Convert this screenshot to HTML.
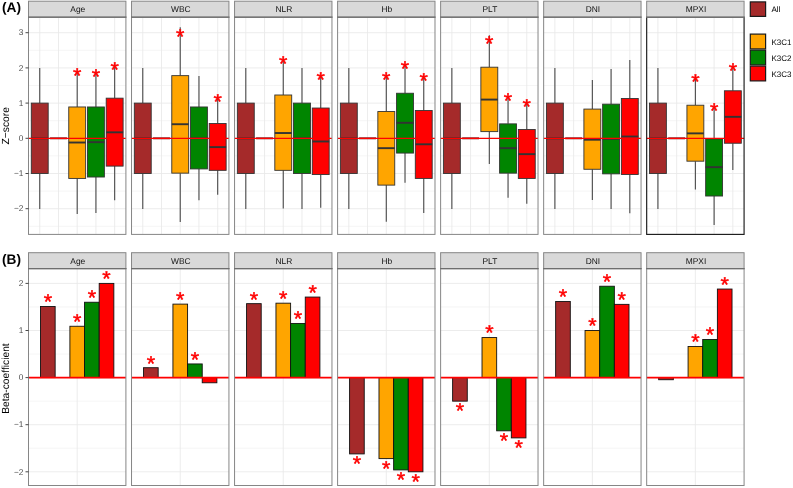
<!DOCTYPE html>
<html lang="en"><head><meta charset="utf-8"><title>Figure</title>
<style>html,body{margin:0;padding:0;background:#fff}svg{display:block}</style>
</head><body>
<svg width="793" height="488" viewBox="0 0 793 488">
<style>
text{font-family:"Liberation Sans",Arial,Helvetica,sans-serif;text-rendering:geometricPrecision}
.st{font-size:21.6px;fill:#FF0000;text-anchor:middle;stroke:#FF0000;stroke-width:0.45}
.sl{font-size:8.4px;fill:#111;text-anchor:middle}
.tk{font-size:8.3px;fill:#4d4d4d;text-anchor:end}
.ax{font-size:10.25px;fill:#000;text-anchor:middle}
.lg{font-size:8px;fill:#000}
.ttl{font-size:13.7px;font-weight:bold;fill:#000}
.gM{stroke:#e8e8e8;stroke-width:0.85;fill:none}
.gm{stroke:#efefef;stroke-width:0.6;fill:none}
.bx{stroke:#333;stroke-width:0.9}
.wh{stroke:#4a4a4a;stroke-width:1.1;fill:none}
.md{stroke:#333;stroke-width:1.9;fill:none}
.bar{stroke:#111;stroke-width:0.9}
</style>
<rect width="793" height="488" fill="#fff"/>
<g>
<rect x="28.5" y="17.2" width="97.4" height="217.2" fill="#fff"/>
<path class="gm" d="M28.5 226.3H125.9"/>
<path class="gm" d="M28.5 191.1H125.9"/>
<path class="gm" d="M28.5 155.9H125.9"/>
<path class="gm" d="M28.5 120.7H125.9"/>
<path class="gm" d="M28.5 85.5H125.9"/>
<path class="gm" d="M28.5 50.3H125.9"/>
<path class="gM" d="M28.5 208.7H125.9"/>
<path class="gM" d="M28.5 173.5H125.9"/>
<path class="gM" d="M28.5 138.3H125.9"/>
<path class="gM" d="M28.5 103.1H125.9"/>
<path class="gM" d="M28.5 67.9H125.9"/>
<path class="gM" d="M28.5 32.7H125.9"/>
<path class="gM" d="M39.74 17.2V234.4"/>
<path class="gM" d="M58.47 17.2V234.4"/>
<path class="gM" d="M77.2 17.2V234.4"/>
<path class="gM" d="M95.93 17.2V234.4"/>
<path class="gM" d="M114.66 17.2V234.4"/>
<path class="wh" d="M39.74 68V103.1M39.74 173.5V209.1"/>
<rect class="bx" x="31.29" y="103.1" width="16.9" height="70.4" fill="#A52A2A"/>
<path class="md" d="M31.29 138.3H48.19"/>
<path class="wh" d="M77.2 71.52V106.97M77.2 178.43V214.03"/>
<rect class="bx" x="68.75" y="106.97" width="16.9" height="71.46" fill="#FFA500"/>
<path class="md" d="M68.75 142.52H85.65"/>
<path class="wh" d="M95.93 71.52V106.97M95.93 177.02V212.97"/>
<rect class="bx" x="87.48" y="106.97" width="16.9" height="70.05" fill="#008500"/>
<path class="md" d="M87.48 142.17H104.38"/>
<path class="wh" d="M114.66 64.48V98.17M114.66 166.11V200.3"/>
<rect class="bx" x="106.21" y="98.17" width="16.9" height="67.94" fill="#FF0000"/>
<path class="md" d="M106.21 132.32H123.11"/>
<path d="M50.02 138.3H66.92" stroke="#7a2a2a" stroke-width="2" fill="none"/>
<path d="M28.5 138.3H125.9" stroke="#FF0000" stroke-width="1.25" fill="none"/>
<text x="77.2" y="83.31" class="st">*</text>
<text x="95.93" y="83.51" class="st">*</text>
<text x="114.66" y="76.71" class="st">*</text>
<rect x="28.5" y="17.2" width="97.4" height="217.2" fill="none" stroke="#868686" stroke-width="1"/>
<rect x="28.5" y="1.2" width="97.4" height="16" fill="#d9d9d9" stroke="#868686" stroke-width="1"/>
<path d="M28 17.2H126.4" stroke="#6e6e6e" stroke-width="1.2" fill="none"/>
<text x="77.8" y="12" class="sl">Age</text>
</g>
<g>
<rect x="131.53" y="17.2" width="97.4" height="217.2" fill="#fff"/>
<path class="gm" d="M131.53 226.3H228.93"/>
<path class="gm" d="M131.53 191.1H228.93"/>
<path class="gm" d="M131.53 155.9H228.93"/>
<path class="gm" d="M131.53 120.7H228.93"/>
<path class="gm" d="M131.53 85.5H228.93"/>
<path class="gm" d="M131.53 50.3H228.93"/>
<path class="gM" d="M131.53 208.7H228.93"/>
<path class="gM" d="M131.53 173.5H228.93"/>
<path class="gM" d="M131.53 138.3H228.93"/>
<path class="gM" d="M131.53 103.1H228.93"/>
<path class="gM" d="M131.53 67.9H228.93"/>
<path class="gM" d="M131.53 32.7H228.93"/>
<path class="gM" d="M142.77 17.2V234.4"/>
<path class="gM" d="M161.5 17.2V234.4"/>
<path class="gM" d="M180.23 17.2V234.4"/>
<path class="gM" d="M198.96 17.2V234.4"/>
<path class="gM" d="M217.69 17.2V234.4"/>
<path class="wh" d="M142.77 68V103.1M142.77 173.5V209.1"/>
<rect class="bx" x="134.32" y="103.1" width="16.9" height="70.4" fill="#A52A2A"/>
<path class="md" d="M134.32 138.3H151.22"/>
<path class="wh" d="M180.23 27.17V75.64M180.23 173.15V222.12"/>
<rect class="bx" x="171.78" y="75.64" width="16.9" height="97.5" fill="#FFA500"/>
<path class="md" d="M171.78 124.22H188.68"/>
<path class="wh" d="M198.96 76.1V106.97M198.96 168.92V200.3"/>
<rect class="bx" x="190.51" y="106.97" width="16.9" height="61.95" fill="#008500"/>
<path class="md" d="M190.51 138.3H207.41"/>
<path class="wh" d="M217.69 96.16V123.52M217.69 170.33V194.67"/>
<rect class="bx" x="209.24" y="123.52" width="16.9" height="46.82" fill="#FF0000"/>
<path class="md" d="M209.24 147.1H226.14"/>
<path d="M153.05 138.3H169.95" stroke="#7a2a2a" stroke-width="2" fill="none"/>
<path d="M131.53 138.3H228.93" stroke="#FF0000" stroke-width="1.25" fill="none"/>
<text x="180.23" y="43.51" class="st">*</text>
<text x="217.69" y="108.71" class="st">*</text>
<rect x="131.53" y="17.2" width="97.4" height="217.2" fill="none" stroke="#868686" stroke-width="1"/>
<rect x="131.53" y="1.2" width="97.4" height="16" fill="#d9d9d9" stroke="#868686" stroke-width="1"/>
<path d="M131.03 17.2H229.43" stroke="#6e6e6e" stroke-width="1.2" fill="none"/>
<text x="180.83" y="12" class="sl">WBC</text>
</g>
<g>
<rect x="234.56" y="17.2" width="97.4" height="217.2" fill="#fff"/>
<path class="gm" d="M234.56 226.3H331.96"/>
<path class="gm" d="M234.56 191.1H331.96"/>
<path class="gm" d="M234.56 155.9H331.96"/>
<path class="gm" d="M234.56 120.7H331.96"/>
<path class="gm" d="M234.56 85.5H331.96"/>
<path class="gm" d="M234.56 50.3H331.96"/>
<path class="gM" d="M234.56 208.7H331.96"/>
<path class="gM" d="M234.56 173.5H331.96"/>
<path class="gM" d="M234.56 138.3H331.96"/>
<path class="gM" d="M234.56 103.1H331.96"/>
<path class="gM" d="M234.56 67.9H331.96"/>
<path class="gM" d="M234.56 32.7H331.96"/>
<path class="gM" d="M245.8 17.2V234.4"/>
<path class="gM" d="M264.53 17.2V234.4"/>
<path class="gM" d="M283.26 17.2V234.4"/>
<path class="gM" d="M301.99 17.2V234.4"/>
<path class="gM" d="M320.72 17.2V234.4"/>
<path class="wh" d="M245.8 68V103.1M245.8 173.5V209.1"/>
<rect class="bx" x="237.35" y="103.1" width="16.9" height="70.4" fill="#A52A2A"/>
<path class="md" d="M237.35 138.3H254.25"/>
<path class="wh" d="M283.26 59.2V95M283.26 170.33V208.4"/>
<rect class="bx" x="274.81" y="95" width="16.9" height="75.33" fill="#FFA500"/>
<path class="md" d="M274.81 133.02H291.71"/>
<path class="wh" d="M301.99 68V103.1M301.99 173.5V209.1"/>
<rect class="bx" x="293.54" y="103.1" width="16.9" height="70.4" fill="#008500"/>
<path class="md" d="M293.54 138.3H310.44"/>
<path class="wh" d="M320.72 75.04V108.03M320.72 174.56V207.69"/>
<rect class="bx" x="312.27" y="108.03" width="16.9" height="66.53" fill="#FF0000"/>
<path class="md" d="M312.27 141.47H329.17"/>
<path d="M256.08 138.3H272.98" stroke="#7a2a2a" stroke-width="2" fill="none"/>
<path d="M234.56 138.3H331.96" stroke="#FF0000" stroke-width="1.25" fill="none"/>
<text x="283.26" y="71.11" class="st">*</text>
<text x="320.72" y="87.21" class="st">*</text>
<rect x="234.56" y="17.2" width="97.4" height="217.2" fill="none" stroke="#868686" stroke-width="1"/>
<rect x="234.56" y="1.2" width="97.4" height="16" fill="#d9d9d9" stroke="#868686" stroke-width="1"/>
<path d="M234.06 17.2H332.46" stroke="#6e6e6e" stroke-width="1.2" fill="none"/>
<text x="283.86" y="12" class="sl">NLR</text>
</g>
<g>
<rect x="337.59" y="17.2" width="97.4" height="217.2" fill="#fff"/>
<path class="gm" d="M337.59 226.3H434.99"/>
<path class="gm" d="M337.59 191.1H434.99"/>
<path class="gm" d="M337.59 155.9H434.99"/>
<path class="gm" d="M337.59 120.7H434.99"/>
<path class="gm" d="M337.59 85.5H434.99"/>
<path class="gm" d="M337.59 50.3H434.99"/>
<path class="gM" d="M337.59 208.7H434.99"/>
<path class="gM" d="M337.59 173.5H434.99"/>
<path class="gM" d="M337.59 138.3H434.99"/>
<path class="gM" d="M337.59 103.1H434.99"/>
<path class="gM" d="M337.59 67.9H434.99"/>
<path class="gM" d="M337.59 32.7H434.99"/>
<path class="gM" d="M348.83 17.2V234.4"/>
<path class="gM" d="M367.56 17.2V234.4"/>
<path class="gM" d="M386.29 17.2V234.4"/>
<path class="gM" d="M405.02 17.2V234.4"/>
<path class="gM" d="M423.75 17.2V234.4"/>
<path class="wh" d="M348.83 68V103.1M348.83 173.5V209.1"/>
<rect class="bx" x="340.38" y="103.1" width="16.9" height="70.4" fill="#A52A2A"/>
<path class="md" d="M340.38 138.3H357.28"/>
<path class="wh" d="M386.29 75.04V111.55M386.29 185.12V221.77"/>
<rect class="bx" x="377.84" y="111.55" width="16.9" height="73.57" fill="#FFA500"/>
<path class="md" d="M377.84 148.16H394.74"/>
<path class="wh" d="M405.02 64.48V93.24M405.02 153.08V182.7"/>
<rect class="bx" x="396.57" y="93.24" width="16.9" height="59.84" fill="#008500"/>
<path class="md" d="M396.57 122.81H413.47"/>
<path class="wh" d="M423.75 75.74V110.49M423.75 178.43V212.97"/>
<rect class="bx" x="415.3" y="110.49" width="16.9" height="67.94" fill="#FF0000"/>
<path class="md" d="M415.3 144.28H432.2"/>
<path d="M359.11 138.3H376.01" stroke="#7a2a2a" stroke-width="2" fill="none"/>
<path d="M337.59 138.3H434.99" stroke="#FF0000" stroke-width="1.25" fill="none"/>
<text x="386.29" y="86.51" class="st">*</text>
<text x="405.02" y="76.11" class="st">*</text>
<text x="423.75" y="87.61" class="st">*</text>
<rect x="337.59" y="17.2" width="97.4" height="217.2" fill="none" stroke="#868686" stroke-width="1"/>
<rect x="337.59" y="1.2" width="97.4" height="16" fill="#d9d9d9" stroke="#868686" stroke-width="1"/>
<path d="M337.09 17.2H435.49" stroke="#6e6e6e" stroke-width="1.2" fill="none"/>
<text x="386.89" y="12" class="sl">Hb</text>
</g>
<g>
<rect x="440.62" y="17.2" width="97.4" height="217.2" fill="#fff"/>
<path class="gm" d="M440.62 226.3H538.02"/>
<path class="gm" d="M440.62 191.1H538.02"/>
<path class="gm" d="M440.62 155.9H538.02"/>
<path class="gm" d="M440.62 120.7H538.02"/>
<path class="gm" d="M440.62 85.5H538.02"/>
<path class="gm" d="M440.62 50.3H538.02"/>
<path class="gM" d="M440.62 208.7H538.02"/>
<path class="gM" d="M440.62 173.5H538.02"/>
<path class="gM" d="M440.62 138.3H538.02"/>
<path class="gM" d="M440.62 103.1H538.02"/>
<path class="gM" d="M440.62 67.9H538.02"/>
<path class="gM" d="M440.62 32.7H538.02"/>
<path class="gM" d="M451.86 17.2V234.4"/>
<path class="gM" d="M470.59 17.2V234.4"/>
<path class="gM" d="M489.32 17.2V234.4"/>
<path class="gM" d="M508.05 17.2V234.4"/>
<path class="gM" d="M526.78 17.2V234.4"/>
<path class="wh" d="M451.86 68V103.1M451.86 173.5V209.1"/>
<rect class="bx" x="443.41" y="103.1" width="16.9" height="70.4" fill="#A52A2A"/>
<path class="md" d="M443.41 138.3H460.31"/>
<path class="wh" d="M489.32 35.26V67.2M489.32 131.61V164.04"/>
<rect class="bx" x="480.87" y="67.2" width="16.9" height="64.42" fill="#FFA500"/>
<path class="md" d="M480.87 99.58H497.77"/>
<path class="wh" d="M508.05 96.16V123.87M508.05 173.15V197.84"/>
<rect class="bx" x="499.6" y="123.87" width="16.9" height="49.28" fill="#008500"/>
<path class="md" d="M499.6 148.16H516.5"/>
<path class="wh" d="M526.78 101.44V129.5M526.78 178.43V203.82"/>
<rect class="bx" x="518.33" y="129.5" width="16.9" height="48.93" fill="#FF0000"/>
<path class="md" d="M518.33 154.14H535.23"/>
<path d="M462.14 138.3H479.04" stroke="#7a2a2a" stroke-width="2" fill="none"/>
<path d="M440.62 138.3H538.02" stroke="#FF0000" stroke-width="1.25" fill="none"/>
<text x="489.32" y="51.41" class="st">*</text>
<text x="508.05" y="108.31" class="st">*</text>
<text x="526.78" y="113.51" class="st">*</text>
<rect x="440.62" y="17.2" width="97.4" height="217.2" fill="none" stroke="#868686" stroke-width="1"/>
<rect x="440.62" y="1.2" width="97.4" height="16" fill="#d9d9d9" stroke="#868686" stroke-width="1"/>
<path d="M440.12 17.2H538.52" stroke="#6e6e6e" stroke-width="1.2" fill="none"/>
<text x="489.92" y="12" class="sl">PLT</text>
</g>
<g>
<rect x="543.65" y="17.2" width="97.4" height="217.2" fill="#fff"/>
<path class="gm" d="M543.65 226.3H641.05"/>
<path class="gm" d="M543.65 191.1H641.05"/>
<path class="gm" d="M543.65 155.9H641.05"/>
<path class="gm" d="M543.65 120.7H641.05"/>
<path class="gm" d="M543.65 85.5H641.05"/>
<path class="gm" d="M543.65 50.3H641.05"/>
<path class="gM" d="M543.65 208.7H641.05"/>
<path class="gM" d="M543.65 173.5H641.05"/>
<path class="gM" d="M543.65 138.3H641.05"/>
<path class="gM" d="M543.65 103.1H641.05"/>
<path class="gM" d="M543.65 67.9H641.05"/>
<path class="gM" d="M543.65 32.7H641.05"/>
<path class="gM" d="M554.89 17.2V234.4"/>
<path class="gM" d="M573.62 17.2V234.4"/>
<path class="gM" d="M592.35 17.2V234.4"/>
<path class="gM" d="M611.08 17.2V234.4"/>
<path class="gM" d="M629.81 17.2V234.4"/>
<path class="wh" d="M554.89 68V103.1M554.89 173.5V209.1"/>
<rect class="bx" x="546.44" y="103.1" width="16.9" height="70.4" fill="#A52A2A"/>
<path class="md" d="M546.44 138.3H563.34"/>
<path class="wh" d="M592.35 79.97V109.08M592.35 169.28V199.95"/>
<rect class="bx" x="583.9" y="109.08" width="16.9" height="60.19" fill="#FFA500"/>
<path class="md" d="M583.9 139.71H600.8"/>
<path class="wh" d="M611.08 69.06V104.16M611.08 173.85V209.1"/>
<rect class="bx" x="602.63" y="104.16" width="16.9" height="69.7" fill="#008500"/>
<path class="md" d="M602.63 139H619.53"/>
<path class="wh" d="M629.81 59.9V98.52M629.81 174.56V213.32"/>
<rect class="bx" x="621.36" y="98.52" width="16.9" height="76.03" fill="#FF0000"/>
<path class="md" d="M621.36 136.54H638.26"/>
<path d="M565.17 138.3H582.07" stroke="#7a2a2a" stroke-width="2" fill="none"/>
<path d="M543.65 138.3H641.05" stroke="#FF0000" stroke-width="1.25" fill="none"/>
<rect x="543.65" y="17.2" width="97.4" height="217.2" fill="none" stroke="#868686" stroke-width="1"/>
<rect x="543.65" y="1.2" width="97.4" height="16" fill="#d9d9d9" stroke="#868686" stroke-width="1"/>
<path d="M543.15 17.2H641.55" stroke="#6e6e6e" stroke-width="1.2" fill="none"/>
<text x="592.95" y="12" class="sl">DNI</text>
</g>
<g>
<rect x="646.68" y="17.2" width="97.4" height="217.2" fill="#fff"/>
<path class="gm" d="M646.68 226.3H744.08"/>
<path class="gm" d="M646.68 191.1H744.08"/>
<path class="gm" d="M646.68 155.9H744.08"/>
<path class="gm" d="M646.68 120.7H744.08"/>
<path class="gm" d="M646.68 85.5H744.08"/>
<path class="gm" d="M646.68 50.3H744.08"/>
<path class="gM" d="M646.68 208.7H744.08"/>
<path class="gM" d="M646.68 173.5H744.08"/>
<path class="gM" d="M646.68 138.3H744.08"/>
<path class="gM" d="M646.68 103.1H744.08"/>
<path class="gM" d="M646.68 67.9H744.08"/>
<path class="gM" d="M646.68 32.7H744.08"/>
<path class="gM" d="M657.92 17.2V234.4"/>
<path class="gM" d="M676.65 17.2V234.4"/>
<path class="gM" d="M695.38 17.2V234.4"/>
<path class="gM" d="M714.11 17.2V234.4"/>
<path class="gM" d="M732.84 17.2V234.4"/>
<path class="wh" d="M657.92 68V103.1M657.92 173.5V209.1"/>
<rect class="bx" x="649.47" y="103.1" width="16.9" height="70.4" fill="#A52A2A"/>
<path class="md" d="M649.47 138.3H666.37"/>
<path class="wh" d="M695.38 76.8V105.21M695.38 161.18V189.39"/>
<rect class="bx" x="686.93" y="105.21" width="16.9" height="55.97" fill="#FFA500"/>
<path class="md" d="M686.93 133.37H703.83"/>
<path class="wh" d="M714.11 106.72V139M714.11 196.03V224.94"/>
<rect class="bx" x="705.66" y="139" width="16.9" height="57.02" fill="#008500"/>
<path class="md" d="M705.66 167.16H722.56"/>
<path class="wh" d="M732.84 66.24V90.78M732.84 143.23V170.03"/>
<rect class="bx" x="724.39" y="90.78" width="16.9" height="52.45" fill="#FF0000"/>
<path class="md" d="M724.39 116.83H741.29"/>
<path d="M668.2 138.3H685.1" stroke="#7a2a2a" stroke-width="2" fill="none"/>
<path d="M646.68 138.3H744.08" stroke="#FF0000" stroke-width="1.25" fill="none"/>
<text x="695.38" y="89.21" class="st">*</text>
<text x="714.11" y="118.11" class="st">*</text>
<text x="732.84" y="77.71" class="st">*</text>
<rect x="646.68" y="17.2" width="97.4" height="217.2" fill="none" stroke="#1a1a1a" stroke-width="1.15"/>
<rect x="646.68" y="1.2" width="97.4" height="16" fill="#d9d9d9" stroke="#868686" stroke-width="1"/>
<path d="M646.18 17.2H744.58" stroke="#6e6e6e" stroke-width="1.2" fill="none"/>
<text x="695.98" y="12" class="sl">MPXI</text>
</g>
<path d="M25.5 208.7H28.5" stroke="#333" stroke-width="0.9"/>
<text x="23.4" y="211.45" class="tk">−2</text>
<path d="M25.5 173.5H28.5" stroke="#333" stroke-width="0.9"/>
<text x="23.4" y="176.25" class="tk">−1</text>
<path d="M25.5 138.3H28.5" stroke="#333" stroke-width="0.9"/>
<text x="23.4" y="141.05" class="tk">0</text>
<path d="M25.5 103.1H28.5" stroke="#333" stroke-width="0.9"/>
<text x="23.4" y="105.85" class="tk">1</text>
<path d="M25.5 67.9H28.5" stroke="#333" stroke-width="0.9"/>
<text x="23.4" y="70.65" class="tk">2</text>
<path d="M25.5 32.7H28.5" stroke="#333" stroke-width="0.9"/>
<text x="23.4" y="35.45" class="tk">3</text>
<text class="ax" transform="translate(9.2 125.8) rotate(-90)">Z−score</text>
<text class="ttl" x="2" y="12.2">(A)</text>
<g>
<rect x="28.5" y="268.6" width="97.4" height="216.9" fill="#fff"/>
<path class="gm" d="M28.5 448.25H125.9"/>
<path class="gm" d="M28.5 401.15H125.9"/>
<path class="gm" d="M28.5 354.05H125.9"/>
<path class="gm" d="M28.5 306.95H125.9"/>
<path class="gM" d="M28.5 471.8H125.9"/>
<path class="gM" d="M28.5 424.7H125.9"/>
<path class="gM" d="M28.5 377.6H125.9"/>
<path class="gM" d="M28.5 330.5H125.9"/>
<path class="gM" d="M28.5 283.4H125.9"/>
<path class="gM" d="M77.2 268.6V485.5"/>
<rect class="bar" x="40.5" y="306.48" width="14.65" height="71.12" fill="#A52A2A"/>
<rect class="bar" x="69.9" y="326.26" width="14.65" height="51.34" fill="#FFA500"/>
<rect class="bar" x="84.55" y="302.24" width="14.65" height="75.36" fill="#008500"/>
<rect class="bar" x="99.2" y="283.4" width="14.65" height="94.2" fill="#FF0000"/>
<path d="M28.5 377.6H125.9" stroke="#FF0000" stroke-width="1.6" fill="none"/>
<text x="47.83" y="309.39" class="st">*</text>
<text x="77.23" y="329.17" class="st">*</text>
<text x="91.88" y="305.15" class="st">*</text>
<text x="106.53" y="286.31" class="st">*</text>
<rect x="28.5" y="268.6" width="97.4" height="216.9" fill="none" stroke="#868686" stroke-width="1"/>
<rect x="28.5" y="252.7" width="97.4" height="15.9" fill="#d9d9d9" stroke="#868686" stroke-width="1"/>
<path d="M28 268.6H126.4" stroke="#6e6e6e" stroke-width="1.2" fill="none"/>
<text x="77.8" y="263.5" class="sl">Age</text>
</g>
<g>
<rect x="131.53" y="268.6" width="97.4" height="216.9" fill="#fff"/>
<path class="gm" d="M131.53 448.25H228.93"/>
<path class="gm" d="M131.53 401.15H228.93"/>
<path class="gm" d="M131.53 354.05H228.93"/>
<path class="gm" d="M131.53 306.95H228.93"/>
<path class="gM" d="M131.53 471.8H228.93"/>
<path class="gM" d="M131.53 424.7H228.93"/>
<path class="gM" d="M131.53 377.6H228.93"/>
<path class="gM" d="M131.53 330.5H228.93"/>
<path class="gM" d="M131.53 283.4H228.93"/>
<path class="gM" d="M180.23 268.6V485.5"/>
<rect class="bar" x="143.53" y="367.71" width="14.65" height="9.89" fill="#A52A2A"/>
<rect class="bar" x="172.93" y="304.12" width="14.65" height="73.48" fill="#FFA500"/>
<rect class="bar" x="187.58" y="363.94" width="14.65" height="13.66" fill="#008500"/>
<rect class="bar" x="202.23" y="377.6" width="14.65" height="5.18" fill="#FF0000"/>
<path d="M131.53 377.6H228.93" stroke="#FF0000" stroke-width="1.6" fill="none"/>
<text x="150.85" y="370.62" class="st">*</text>
<text x="180.25" y="307.03" class="st">*</text>
<text x="194.9" y="366.85" class="st">*</text>
<rect x="131.53" y="268.6" width="97.4" height="216.9" fill="none" stroke="#868686" stroke-width="1"/>
<rect x="131.53" y="252.7" width="97.4" height="15.9" fill="#d9d9d9" stroke="#868686" stroke-width="1"/>
<path d="M131.03 268.6H229.43" stroke="#6e6e6e" stroke-width="1.2" fill="none"/>
<text x="180.83" y="263.5" class="sl">WBC</text>
</g>
<g>
<rect x="234.56" y="268.6" width="97.4" height="216.9" fill="#fff"/>
<path class="gm" d="M234.56 448.25H331.96"/>
<path class="gm" d="M234.56 401.15H331.96"/>
<path class="gm" d="M234.56 354.05H331.96"/>
<path class="gm" d="M234.56 306.95H331.96"/>
<path class="gM" d="M234.56 471.8H331.96"/>
<path class="gM" d="M234.56 424.7H331.96"/>
<path class="gM" d="M234.56 377.6H331.96"/>
<path class="gM" d="M234.56 330.5H331.96"/>
<path class="gM" d="M234.56 283.4H331.96"/>
<path class="gM" d="M283.26 268.6V485.5"/>
<rect class="bar" x="246.56" y="303.65" width="14.65" height="73.95" fill="#A52A2A"/>
<rect class="bar" x="275.96" y="303.18" width="14.65" height="74.42" fill="#FFA500"/>
<rect class="bar" x="290.61" y="323.44" width="14.65" height="54.17" fill="#008500"/>
<rect class="bar" x="305.26" y="297.06" width="14.65" height="80.54" fill="#FF0000"/>
<path d="M234.56 377.6H331.96" stroke="#FF0000" stroke-width="1.6" fill="none"/>
<text x="253.88" y="306.56" class="st">*</text>
<text x="283.28" y="306.09" class="st">*</text>
<text x="297.94" y="326.34" class="st">*</text>
<text x="312.58" y="299.97" class="st">*</text>
<rect x="234.56" y="268.6" width="97.4" height="216.9" fill="none" stroke="#868686" stroke-width="1"/>
<rect x="234.56" y="252.7" width="97.4" height="15.9" fill="#d9d9d9" stroke="#868686" stroke-width="1"/>
<path d="M234.06 268.6H332.46" stroke="#6e6e6e" stroke-width="1.2" fill="none"/>
<text x="283.86" y="263.5" class="sl">NLR</text>
</g>
<g>
<rect x="337.59" y="268.6" width="97.4" height="216.9" fill="#fff"/>
<path class="gm" d="M337.59 448.25H434.99"/>
<path class="gm" d="M337.59 401.15H434.99"/>
<path class="gm" d="M337.59 354.05H434.99"/>
<path class="gm" d="M337.59 306.95H434.99"/>
<path class="gM" d="M337.59 471.8H434.99"/>
<path class="gM" d="M337.59 424.7H434.99"/>
<path class="gM" d="M337.59 377.6H434.99"/>
<path class="gM" d="M337.59 330.5H434.99"/>
<path class="gM" d="M337.59 283.4H434.99"/>
<path class="gM" d="M386.29 268.6V485.5"/>
<rect class="bar" x="349.59" y="377.6" width="14.65" height="76.3" fill="#A52A2A"/>
<rect class="bar" x="378.99" y="377.6" width="14.65" height="81.01" fill="#FFA500"/>
<rect class="bar" x="393.64" y="377.6" width="14.65" height="92.32" fill="#008500"/>
<rect class="bar" x="408.29" y="377.6" width="14.65" height="94.2" fill="#FF0000"/>
<path d="M337.59 377.6H434.99" stroke="#FF0000" stroke-width="1.6" fill="none"/>
<text x="356.92" y="470.81" class="st">*</text>
<text x="386.31" y="475.52" class="st">*</text>
<text x="400.97" y="486.83" class="st">*</text>
<text x="415.62" y="488.71" class="st">*</text>
<rect x="337.59" y="268.6" width="97.4" height="216.9" fill="none" stroke="#868686" stroke-width="1"/>
<rect x="337.59" y="252.7" width="97.4" height="15.9" fill="#d9d9d9" stroke="#868686" stroke-width="1"/>
<path d="M337.09 268.6H435.49" stroke="#6e6e6e" stroke-width="1.2" fill="none"/>
<text x="386.89" y="263.5" class="sl">Hb</text>
</g>
<g>
<rect x="440.62" y="268.6" width="97.4" height="216.9" fill="#fff"/>
<path class="gm" d="M440.62 448.25H538.02"/>
<path class="gm" d="M440.62 401.15H538.02"/>
<path class="gm" d="M440.62 354.05H538.02"/>
<path class="gm" d="M440.62 306.95H538.02"/>
<path class="gM" d="M440.62 471.8H538.02"/>
<path class="gM" d="M440.62 424.7H538.02"/>
<path class="gM" d="M440.62 377.6H538.02"/>
<path class="gM" d="M440.62 330.5H538.02"/>
<path class="gM" d="M440.62 283.4H538.02"/>
<path class="gM" d="M489.32 268.6V485.5"/>
<rect class="bar" x="452.62" y="377.6" width="14.65" height="23.55" fill="#A52A2A"/>
<rect class="bar" x="482.02" y="337.56" width="14.65" height="40.04" fill="#FFA500"/>
<rect class="bar" x="496.67" y="377.6" width="14.65" height="53.22" fill="#008500"/>
<rect class="bar" x="511.32" y="377.6" width="14.65" height="60.29" fill="#FF0000"/>
<path d="M440.62 377.6H538.02" stroke="#FF0000" stroke-width="1.6" fill="none"/>
<text x="459.94" y="418.06" class="st">*</text>
<text x="489.34" y="340.47" class="st">*</text>
<text x="504" y="447.73" class="st">*</text>
<text x="518.64" y="454.8" class="st">*</text>
<rect x="440.62" y="268.6" width="97.4" height="216.9" fill="none" stroke="#868686" stroke-width="1"/>
<rect x="440.62" y="252.7" width="97.4" height="15.9" fill="#d9d9d9" stroke="#868686" stroke-width="1"/>
<path d="M440.12 268.6H538.52" stroke="#6e6e6e" stroke-width="1.2" fill="none"/>
<text x="489.92" y="263.5" class="sl">PLT</text>
</g>
<g>
<rect x="543.65" y="268.6" width="97.4" height="216.9" fill="#fff"/>
<path class="gm" d="M543.65 448.25H641.05"/>
<path class="gm" d="M543.65 401.15H641.05"/>
<path class="gm" d="M543.65 354.05H641.05"/>
<path class="gm" d="M543.65 306.95H641.05"/>
<path class="gM" d="M543.65 471.8H641.05"/>
<path class="gM" d="M543.65 424.7H641.05"/>
<path class="gM" d="M543.65 377.6H641.05"/>
<path class="gM" d="M543.65 330.5H641.05"/>
<path class="gM" d="M543.65 283.4H641.05"/>
<path class="gM" d="M592.35 268.6V485.5"/>
<rect class="bar" x="555.65" y="301.53" width="14.65" height="76.07" fill="#A52A2A"/>
<rect class="bar" x="585.05" y="330.5" width="14.65" height="47.1" fill="#FFA500"/>
<rect class="bar" x="599.7" y="286.23" width="14.65" height="91.37" fill="#008500"/>
<rect class="bar" x="614.35" y="304.36" width="14.65" height="73.24" fill="#FF0000"/>
<path d="M543.65 377.6H641.05" stroke="#FF0000" stroke-width="1.6" fill="none"/>
<text x="562.98" y="304.44" class="st">*</text>
<text x="592.38" y="333.41" class="st">*</text>
<text x="607.02" y="289.14" class="st">*</text>
<text x="621.68" y="307.27" class="st">*</text>
<rect x="543.65" y="268.6" width="97.4" height="216.9" fill="none" stroke="#868686" stroke-width="1"/>
<rect x="543.65" y="252.7" width="97.4" height="15.9" fill="#d9d9d9" stroke="#868686" stroke-width="1"/>
<path d="M543.15 268.6H641.55" stroke="#6e6e6e" stroke-width="1.2" fill="none"/>
<text x="592.95" y="263.5" class="sl">DNI</text>
</g>
<g>
<rect x="646.68" y="268.6" width="97.4" height="216.9" fill="#fff"/>
<path class="gm" d="M646.68 448.25H744.08"/>
<path class="gm" d="M646.68 401.15H744.08"/>
<path class="gm" d="M646.68 354.05H744.08"/>
<path class="gm" d="M646.68 306.95H744.08"/>
<path class="gM" d="M646.68 471.8H744.08"/>
<path class="gM" d="M646.68 424.7H744.08"/>
<path class="gM" d="M646.68 377.6H744.08"/>
<path class="gM" d="M646.68 330.5H744.08"/>
<path class="gM" d="M646.68 283.4H744.08"/>
<path class="gM" d="M695.38 268.6V485.5"/>
<rect class="bar" x="658.68" y="377.6" width="14.65" height="2.12" fill="#A52A2A"/>
<rect class="bar" x="688.08" y="346.51" width="14.65" height="31.09" fill="#FFA500"/>
<rect class="bar" x="702.73" y="339.45" width="14.65" height="38.15" fill="#008500"/>
<rect class="bar" x="717.38" y="289.05" width="14.65" height="88.55" fill="#FF0000"/>
<path d="M646.68 377.6H744.08" stroke="#FF0000" stroke-width="1.6" fill="none"/>
<text x="695.41" y="349.42" class="st">*</text>
<text x="710.06" y="342.36" class="st">*</text>
<text x="724.71" y="291.96" class="st">*</text>
<rect x="646.68" y="268.6" width="97.4" height="216.9" fill="none" stroke="#868686" stroke-width="1"/>
<rect x="646.68" y="252.7" width="97.4" height="15.9" fill="#d9d9d9" stroke="#868686" stroke-width="1"/>
<path d="M646.18 268.6H744.58" stroke="#6e6e6e" stroke-width="1.2" fill="none"/>
<text x="695.98" y="263.5" class="sl">MPXI</text>
</g>
<path d="M25.5 471.8H28.5" stroke="#333" stroke-width="0.9"/>
<text x="23.4" y="474.55" class="tk">−2</text>
<path d="M25.5 424.7H28.5" stroke="#333" stroke-width="0.9"/>
<text x="23.4" y="427.45" class="tk">−1</text>
<path d="M25.5 377.6H28.5" stroke="#333" stroke-width="0.9"/>
<text x="23.4" y="380.35" class="tk">0</text>
<path d="M25.5 330.5H28.5" stroke="#333" stroke-width="0.9"/>
<text x="23.4" y="333.25" class="tk">1</text>
<path d="M25.5 283.4H28.5" stroke="#333" stroke-width="0.9"/>
<text x="23.4" y="286.15" class="tk">2</text>
<text class="ax" transform="translate(9.1 378.55) rotate(-90)">Beta-coefficient</text>
<text class="ttl" x="2" y="263.7">(B)</text>
<rect x="750.3" y="1.9" width="15.3" height="14.5" fill="#A52A2A" stroke="#1a1a1a" stroke-width="1.2"/>
<text class="lg" x="771.4" y="12.4">All</text>
<rect x="750.3" y="34.1" width="15.3" height="14.8" fill="#FFA500" stroke="#1a1a1a" stroke-width="1.2"/>
<text class="lg" x="771.4" y="44.9">K3C1</text>
<rect x="750.3" y="50.1" width="15.3" height="14.8" fill="#008500" stroke="#1a1a1a" stroke-width="1.2"/>
<text class="lg" x="771.4" y="60.9">K3C2</text>
<rect x="750.3" y="66.1" width="15.3" height="14.8" fill="#FF0000" stroke="#1a1a1a" stroke-width="1.2"/>
<text class="lg" x="771.4" y="76.9">K3C3</text>
</svg>
</body></html>
